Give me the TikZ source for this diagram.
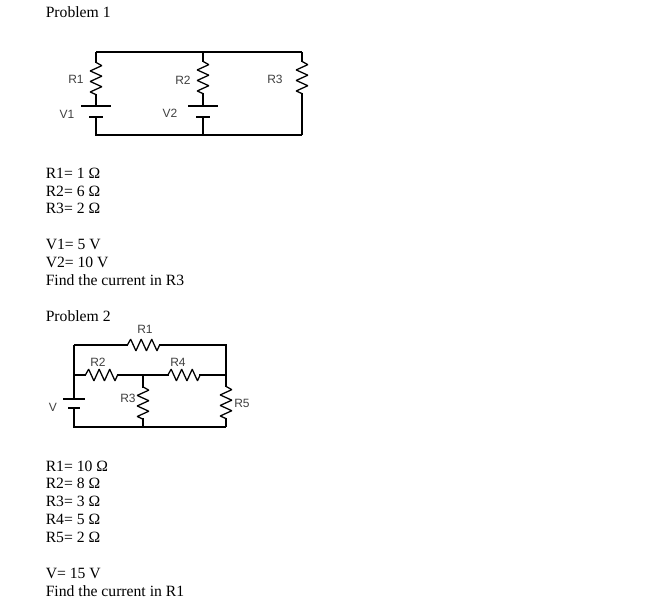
\documentclass[tikz,border=0pt]{standalone}
\usepackage{fontspec}
\setmainfont{Liberation Serif}
\newfontfamily\labelfont{Liberation Sans}
\usepackage[american]{circuitikz}
\usetikzlibrary{positioning}
\ctikzset{bipoles/length=1.2cm}
\ctikzset{bipoles/thickness=1}
\ctikzset{resistors/scale=0.85}
\ctikzset{resistors/zigs=3}
\ctikzset{bipoles/resistor/height=0.3}
\tikzset{
	txt/.style={anchor=west, inner sep=0pt, yshift=-0.4pt, font=\fontsize{11.75}{14}\selectfont},
	lbl/.style={inner sep=0pt, font=\labelfont\fontsize{9}{10}\selectfont, text=black!75},
	wire/.style={line width=0.95pt}
}

\begin{document}
\begin{tikzpicture}[x=0.75pt,y=-0.75pt]
	\useasboundingbox (0,0) rectangle (671,608);
	
	% problem 1
	\coordinate (TL) at (96,52);
	\coordinate (TM) at (203,52);
	\coordinate (TR) at (302,52);
	\coordinate (BL) at (96,135);
	\coordinate (BM) at (203,135);
	\coordinate (BR) at (302,135);
	\coordinate (R1a) at (96,61);
	\coordinate (R1b) at (96,96);
	\coordinate (R2a) at (203,60);
	\coordinate (R2b) at (203,95);
	\coordinate (R3a) at (302,60);
	\coordinate (R3b) at (302,95);
	\coordinate (V1p) at (96,106);
	\coordinate (V1n) at (96,117);
	\coordinate (V2p) at (203,106);
	\coordinate (V2n) at (203,117);
	
	\draw[wire]
	(TL) -- (TR)
	(TL) -- (R1a) to[R] (R1b) -- (V1p)
	(TM) -- (R2a) to[R] (R2b) -- (V2p)
	(TR) -- (R3a) to[R] (R3b) -- (BR)
	(V1n) -- (BL) -- (BR)
	(V2n) -- (BM)
	
	(V1p) ++(-15,0) -- ++(30,0)
	(V1n) ++(-7,0) -- ++(14,0)
	(V2p) ++(-15,0) -- ++(30,0)
	(V2n) ++(-7,0) -- ++(14,0);
	
	\node[lbl] (LR1) at (76,79) {R1};
	\node[lbl] (LR2) at (183,80) {R2};
	\node[lbl] (LR3) at (275,79) {R3};
	\node[lbl] (LV1) at (67,114.5) {V1};
	\node[lbl] (LV2) at (170,113.5) {V2};
	
	% problem 2
	\coordinate (PTL) at (74,345);
	\coordinate (PTR) at (226,345);
	\coordinate (PML) at (74,375);
	\coordinate (PMM) at (143,375);
	\coordinate (PMR) at (226,375);
	\coordinate (PBL) at (74,427);
	\coordinate (PBM) at (143,427);
	\coordinate (PBR) at (226,427);
	\coordinate (VP) at (74,399);
	\coordinate (VN) at (74,408);
	
	\draw[wire]
	(PTL) -- (126,345) to[R] (161,345) -- (PTR) -- (PMR)
	(PML) -- (84,375) to[R] (119,375) -- (PMM) -- (167,375) to[R] (201,375) -- (PMR)
	(PTL) -- (PML) -- (VP)
	(VN) -- (PBL) -- (PBR)
	(PMM) -- (143,387) to[R] (143,419) -- (PBM)
	(PMR) -- (226,386) to[R] (226,419) -- (PBR)
	
	(VP) ++(-11,0) -- ++(22,0)
	(VN) ++(-6,0) -- ++(12,0);
	
	\node[lbl] (PLR1) at (145,329.5) {R1};
	\node[lbl] (PLR2) at (98,362.5) {R2};
	\node[lbl] (PLR4) at (178,362.5) {R4};
	\node[lbl] (PLR3) at (128,398.5) {R3};
	\node[lbl] (PLR5) at (242,403.5) {R5};
	\node[lbl] (PLV) at (53,407.5) {V};
	
	% text
	\node[txt] (T1) at (45.5,11.5) {Problem 1};
	\node[txt] (A1) at (45.5,172.5) {R1= 1 Ω};
	\node[txt] (A2) at (45.5,190.5) {R2= 6 Ω};
	\node[txt] (A3) at (45.5,207.5) {R3= 2 Ω};
	\node[txt] (A4) at (45.5,243.5) {V1= 5 V};
	\node[txt] (A5) at (45.5,261.5) {V2= 10 V};
	\node[txt] (A6) at (45.5,279.5) {Find the current in R3};
	
	\node[txt] (T2) at (45.5,315.5) {Problem 2};
	\node[txt] (B1) at (45.5,465.5) {R1= 10 Ω};
	\node[txt] (B2) at (45.5,482.5) {R2= 8 Ω};
	\node[txt] (B3) at (45.5,500.5) {R3= 3 Ω};
	\node[txt] (B4) at (45.5,518.5) {R4= 5 Ω};
	\node[txt] (B5) at (45.5,536.5) {R5= 2 Ω};
	\node[txt] (B6) at (45.5,572.5) {V= 15 V};
	\node[txt] (B7) at (45.5,590.5) {Find the current in R1};
\end{tikzpicture}
\end{document}
